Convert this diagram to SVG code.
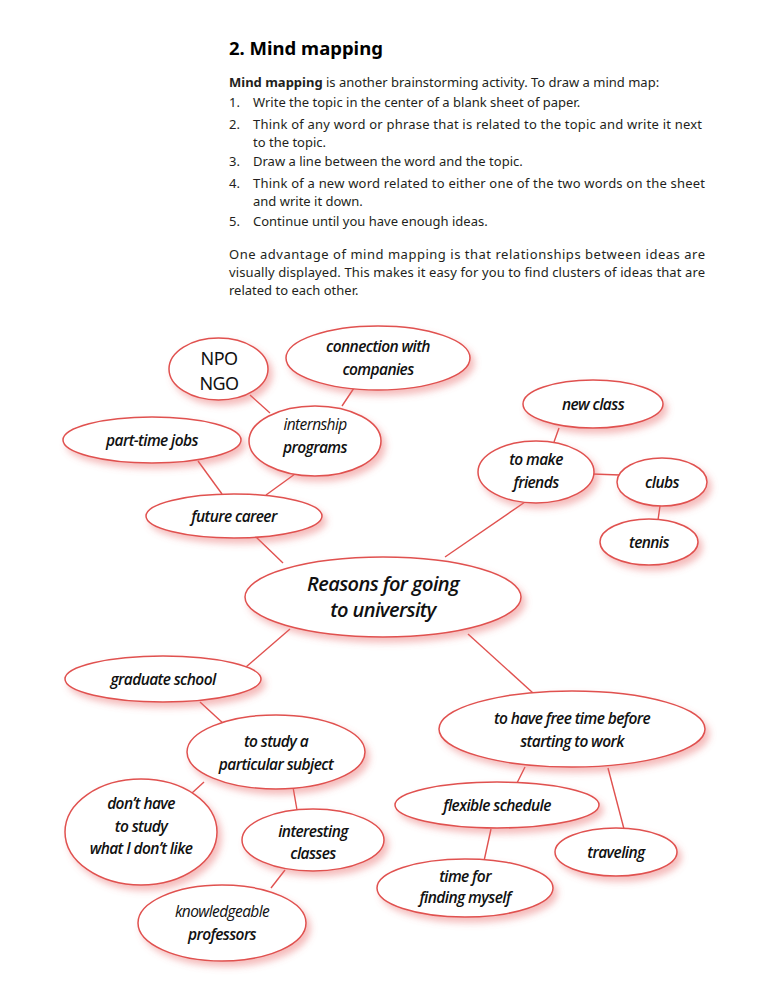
<svg xmlns="http://www.w3.org/2000/svg" width="771" height="989" viewBox="0 0 771 989">
<defs>
<filter id="sh" x="-20%" y="-30%" width="150%" height="170%">
<feDropShadow dx="4" dy="5" stdDeviation="3.5" flood-color="#e86a6a" flood-opacity="0.45"/>
</filter>
</defs>
<style>
.body{font-family:"Noto Sans","Open Sans",sans-serif;font-size:13px;fill:#231f20}
.title{font-family:"Noto Sans","Open Sans",sans-serif;font-size:18.5px;font-weight:bold;fill:#000}
.n ellipse{fill:#fff;stroke:#e0514f;stroke-width:1.5;filter:url(#sh)}
.n text{font-family:"Open Sans","Noto Sans",sans-serif;font-style:italic;font-weight:600;font-size:15.5px;fill:#111;text-anchor:middle;letter-spacing:-0.6px}
.c line{stroke:#e0514f;stroke-width:1.4}
</style>
<rect width="771" height="989" fill="#fff"/>
<text class="title" x="229" y="55">2. Mind mapping</text>
<g class="body">
<text x="229" y="87"><tspan font-weight="bold">Mind mapping</tspan> is another brainstorming activity. To draw a mind map:</text>
<text x="229" y="107">1.</text><text x="253" y="107">Write the topic in the center of a blank sheet of paper.</text>
<text x="229" y="129">2.</text><text x="253" y="129" textLength="449" lengthAdjust="spacing">Think of any word or phrase that is related to the topic and write it next</text>
<text x="253" y="147">to the topic.</text>
<text x="229" y="166">3.</text><text x="253" y="166">Draw a line between the word and the topic.</text>
<text x="229" y="188">4.</text><text x="253" y="188" textLength="452" lengthAdjust="spacing">Think of a new word related to either one of the two words on the sheet</text>
<text x="253" y="206">and write it down.</text>
<text x="229" y="226">5.</text><text x="253" y="226">Continue until you have enough ideas.</text>
<text x="229" y="259" textLength="476" lengthAdjust="spacing">One advantage of mind mapping is that relationships between ideas are</text>
<text x="229" y="277" textLength="476" lengthAdjust="spacing">visually displayed. This makes it easy for you to find clusters of ideas that are</text>
<text x="229" y="295">related to each other.</text>
</g>
<g id="connectors" class="c">
<line x1="250" y1="395" x2="270" y2="413"/>
<line x1="354" y1="388" x2="342" y2="406"/>
<line x1="295" y1="474" x2="266" y2="495"/>
<line x1="198" y1="461" x2="222" y2="494"/>
<line x1="256" y1="537" x2="283" y2="563"/>
<line x1="559" y1="428" x2="554" y2="442"/>
<line x1="592" y1="474" x2="620" y2="475" stroke-width="2.6"/>
<line x1="660" y1="506" x2="658" y2="520"/>
<line x1="525" y1="502" x2="445" y2="557"/>
<line x1="290" y1="629" x2="246" y2="667"/>
<line x1="200" y1="702" x2="225" y2="725"/>
<line x1="204" y1="782" x2="192" y2="793"/>
<line x1="293" y1="787" x2="297" y2="810"/>
<line x1="285" y1="870" x2="271" y2="888"/>
<line x1="468" y1="634" x2="533" y2="693"/>
<line x1="525" y1="767" x2="517" y2="783"/>
<line x1="608" y1="768" x2="624" y2="829"/>
<line x1="491" y1="829" x2="484" y2="861"/>
</g>
<g id="npo" class="n"><ellipse cx="218.5" cy="369" rx="49.5" ry="31"/><text x="219" y="365" style="font-style:normal;font-weight:normal;font-family:'Noto Sans',sans-serif;font-size:18px">NPO</text><text x="219" y="390" style="font-style:normal;font-weight:normal;font-family:'Noto Sans',sans-serif;font-size:18px">NGO</text></g>
<g id="connection" class="n"><ellipse cx="378" cy="358" rx="92" ry="32"/><text x="378" y="352">connection with</text><text x="378" y="375">companies</text></g>
<g id="internship" class="n"><ellipse cx="315" cy="441" rx="66" ry="35"/><text x="315" y="430" style="font-weight:normal">internship</text><text x="315" y="453">programs</text></g>
<g id="parttime" class="n"><ellipse cx="152" cy="440" rx="89" ry="23"/><text x="152" y="446">part-time jobs</text></g>
<g id="future" class="n"><ellipse cx="234" cy="516" rx="88" ry="22"/><text x="234" y="522">future career</text></g>
<g id="newclass" class="n"><ellipse cx="593" cy="404" rx="70" ry="24"/><text x="593" y="410">new class</text></g>
<g id="friends" class="n"><ellipse cx="536" cy="472" rx="58" ry="31"/><text x="536" y="465">to make</text><text x="536" y="488">friends</text></g>
<g id="clubs" class="n"><ellipse cx="662" cy="482" rx="45" ry="24"/><text x="662" y="488">clubs</text></g>
<g id="tennis" class="n"><ellipse cx="649" cy="542" rx="49" ry="23"/><text x="649" y="548">tennis</text></g>
<g id="center" class="n"><ellipse cx="383" cy="597" rx="138" ry="40" stroke-width="3"/><text x="383" y="591" style="font-size:20px">Reasons for going</text><text x="383" y="617" style="font-size:20px">to university</text></g>
<g id="graduate" class="n"><ellipse cx="163" cy="679" rx="98" ry="23"/><text x="163" y="685">graduate school</text></g>
<g id="study" class="n"><ellipse cx="276" cy="752" rx="89" ry="37"/><text x="276" y="747">to study a</text><text x="276" y="770">particular subject</text></g>
<g id="donthave" class="n"><ellipse cx="141" cy="832" rx="76" ry="53"/><text x="141" y="809">don’t have</text><text x="141" y="832">to study</text><text x="141" y="854">what I don’t like</text></g>
<g id="interesting" class="n"><ellipse cx="313" cy="840" rx="71" ry="31"/><text x="313" y="837">interesting</text><text x="313" y="859">classes</text></g>
<g id="knowledgeable" class="n"><ellipse cx="222" cy="923" rx="84" ry="38"/><text x="222" y="917" style="font-weight:normal">knowledgeable</text><text x="222" y="940">professors</text></g>
<g id="freetime" class="n"><ellipse cx="572" cy="729" rx="133" ry="38"/><text x="572" y="724">to have free time before</text><text x="572" y="747">starting to work</text></g>
<g id="flexible" class="n"><ellipse cx="497" cy="805" rx="102" ry="23"/><text x="497" y="811">flexible schedule</text></g>
<g id="traveling" class="n"><ellipse cx="616" cy="852" rx="61" ry="24"/><text x="616" y="858">traveling</text></g>
<g id="timefor" class="n"><ellipse cx="465" cy="888" rx="88" ry="29"/><text x="465" y="882">time for</text><text x="465" y="903">finding myself</text></g>
</svg>
